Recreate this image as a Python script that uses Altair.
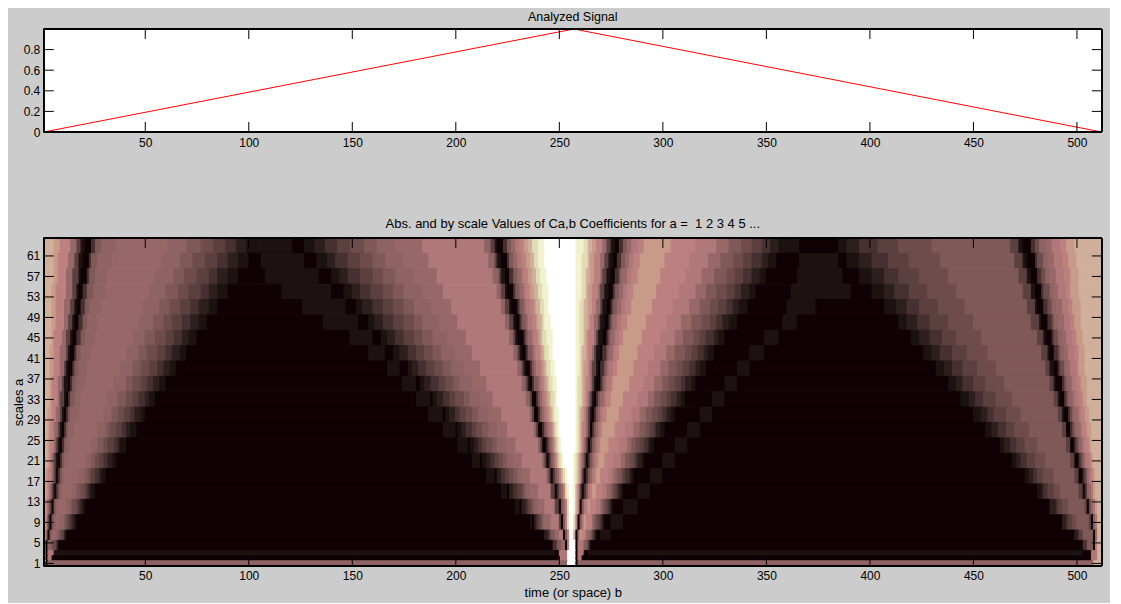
import altair as alt
import pandas as pd

TITLE_TOP = "Analyzed Signal"
TITLE_BOTTOM = "Abs. and by scale Values of Ca,b Coefficients for a =\u00a0 1 2 3 4 5 ..."
FONT = "Liberation Sans"
W, H1, H2 = 1058, 103, 328

signal_b = [1, 257, 512]
signal_v = [0, 1, 0]
x_ticks = [50, 100, 150, 200, 250, 300, 350, 400, 450, 500]
y1_ticks = [0, 0.2, 0.4, 0.6, 0.8]
y2_ticks = [1, 5, 9, 13, 17, 21, 25, 29, 33, 37, 41, 45, 49, 53, 57, 61]

levels = list("0123456789abcdef")
level_colors = ["#100204", "#1c1212", "#2e1f1f", "#463030", "#5c4040", "#6e4c4c", "#7f5858", "#8f6363",
                "#986868", "#b07878", "#bc8080", "#c89a88", "#d0b09c", "#e2dcb4", "#f2f2d0", "#ffffff"]

# each row: (first scale, last scale, runs); a run is level + last b of that run
rows = [
(62, 64, "c6 b9 a14 817 419 121 024 326 629 736 861 770 677 583 489 394 299 1105 1121 0127 1132 2137 3143 4149 5156 6162 7171 8184 9214 7217 4219 1220 0223 3225 6227 8229 9231 a233 b235 c237 d240 e243 f258 e262 d264 c266 b268 a271 8273 4275 1277 0279 3281 6283 8285 9288 a291 b304 a316 9326 8332 6338 5343 4348 3352 2356 1366 0385 1389 2395 3404 4414 5430 6468 4472 1474 0478 3480 5482 7485 8488 9492 a495 b499 c512"),
(59, 61, "c6 b8 a13 816 418 120 023 324 627 734 858 767 673 579 485 390 295 1100 0106 1127 0133 1138 2142 3148 4154 5160 6166 7175 8187 9216 7219 4220 1222 0225 3226 6228 8230 9232 a234 b236 c238 d240 e243 f258 e261 d264 c265 b267 a270 8272 4274 1276 0278 3280 6282 8284 9286 a289 b301 a313 9322 8328 6334 5339 4343 3348 2351 1355 0366 1385 0389 1395 2401 3409 4419 5434 6470 4474 1476 0480 3481 5484 7486 8489 9493 a496 b500 c512"),
(56, 58, "c6 b8 a12 815 418 119 022 323 626 732 855 764 669 575 481 385 290 195 0108 1134 0140 1144 2148 3154 4160 5165 6171 7180 8191 9218 7221 4222 1224 0226 3228 6230 8232 9233 a235 b237 c239 d241 e244 f258 e261 d263 c265 b267 a270 8271 4273 1275 0277 3279 6280 8283 9285 a288 b299 a311 9319 8325 6331 5335 4339 3343 2347 1350 0365 1387 0395 1401 2407 3414 4424 5438 6472 4476 1478 0481 3483 5485 7487 8490 9494 a497 b501 c512"),
(53, 55, "c5 b7 a12 815 417 118 020 322 625 731 852 760 666 571 477 381 285 190 0116 1140 0146 1150 2154 3159 4165 5170 6175 7184 8194 9220 7222 4224 1225 0228 3229 6231 8233 9234 a236 b238 c240 d242 e245 f258 e261 d263 c264 b266 a269 8270 4272 1274 0276 3277 6279 8281 9283 a286 b297 a308 9316 8321 6326 5331 4335 3338 2342 1345 0362 1391 0401 1407 2412 3419 4428 5442 6474 4478 1480 0483 3484 5487 7489 8491 9495 a497 b501 c512"),
(50, 52, "c5 b7 a11 814 416 117 019 321 623 729 849 757 662 567 472 376 281 185 0126 1147 0152 1155 2160 3165 4170 5175 6180 7188 8198 9222 7224 4226 1227 0230 3231 6233 8234 9236 a238 b239 c241 d243 e245 f258 e260 d262 c264 b266 a268 8270 4271 1273 0275 3276 6278 8280 9282 a285 b295 a305 9313 8318 6323 5327 4331 3334 2337 1341 0360 1374 0407 1413 2418 3424 4433 5446 6476 4480 1481 0484 3486 5488 7490 8493 9496 a498 b502 c512"),
(47, 49, "c5 b7 a11 813 415 116 018 320 622 727 847 754 659 563 468 372 276 180 0136 1153 0158 1161 2165 3170 4175 5180 6184 7192 8201 9224 7226 4228 1229 0231 3232 6234 8235 9237 a239 b240 c242 d243 e246 f258 e260 d262 c264 b265 a267 8269 4270 1272 0274 3275 6276 8278 9280 a283 b292 a302 9309 8314 6319 5323 4326 3329 2332 1336 0358 1365 0414 1418 2423 3429 4438 5450 6478 4482 1483 0486 3488 5489 7491 8494 9497 a499 b502 c512"),
(44, 46, "c5 b6 a10 812 414 115 017 319 621 726 844 750 655 560 464 368 271 175 0149 1160 0164 1167 2171 3175 4180 5184 6189 7196 8205 9226 7228 4229 1230 0233 3234 6235 8237 9238 a240 b241 c242 d244 e247 f258 e260 d262 c263 b264 a267 8268 4269 1271 0273 3274 6275 8277 9279 a281 b290 a299 9306 8310 6315 5318 4321 3325 2327 1330 0349 1356 0420 1424 2429 3435 4442 5454 6481 4484 1485 0488 3489 5491 7493 8495 9498 a500 b503 c512"),
(41, 43, "c4 b6 a9 812 413 114 016 317 619 724 841 747 651 556 460 363 267 170 0158 1166 0170 1173 2177 3181 4185 5189 6193 7200 8208 9228 7230 4231 1232 0234 3235 6237 8238 9239 a241 b242 c243 d245 e247 f258 e260 d261 c263 b264 a266 8267 4268 1270 0271 3273 6274 8276 9277 a279 b288 a296 9302 8306 6311 5314 4317 3320 2322 1325 0342 1349 0426 1430 2434 3440 4447 5457 6483 4486 1487 0489 3491 5492 7494 8496 9499 a501 b504 c512"),
(38, 40, "c4 b6 a9 811 412 113 015 316 618 722 838 744 648 552 456 359 262 165 0167 1173 0177 1179 2182 3186 4190 5194 6198 7204 8212 9230 7232 4233 1234 0236 3237 6238 8239 9241 a242 b243 c244 d246 e248 f258 e260 d261 c262 b264 a265 8266 4268 1269 0270 3272 6273 8274 9276 a278 b286 a293 9299 8303 6307 5310 4313 3316 2318 1321 0336 1342 0432 1436 2440 3445 4452 5461 6485 4487 1489 0491 3492 5494 7495 8497 9500 a501 b504 c512"),
(35, 37, "c4 b5 a8 810 411 113 014 315 617 721 835 741 644 548 451 354 257 160 0174 1181 0183 1185 2188 3192 4195 5199 6202 7208 8215 9232 7234 4235 1236 0237 3238 6240 8241 9242 a243 b244 c245 d247 e249 f258 e259 d261 c262 b263 a265 8266 4267 1268 0270 3271 6272 8273 9275 a276 b284 a291 9296 8300 6303 5306 4309 3311 2314 1316 0330 1336 0438 1442 2445 3450 4456 5465 6487 4489 1490 0493 3494 5495 7497 8498 9500 a502 b505 c512"),
(32, 34, "c4 b5 a8 89 411 112 013 314 616 719 832 737 641 544 447 350 252 155 0181 1188 0189 1191 2194 3197 4200 5204 6207 7212 8218 9234 7236 4237 0239 3240 6241 8242 9243 a244 b245 c246 d248 e249 f258 e259 d261 c262 b263 a264 8265 4266 1267 0268 3269 6270 8272 9273 a275 b281 a288 9293 8296 6299 5302 4304 3307 2309 1311 0324 1330 0444 1448 2451 3455 4461 5469 6489 4491 1492 0494 3495 5496 7498 8499 9501 a503 b505 c512"),
(29, 31, "c3 b5 a7 89 410 111 012 313 614 718 830 734 637 540 443 345 248 150 0187 1194 0195 1197 2200 3202 4205 5208 6211 7216 8222 9236 7237 4238 0240 3241 6242 8243 9244 a245 b246 c247 d248 e250 f258 e259 d260 c261 b262 a263 8264 4265 1266 0267 3268 6269 8270 9271 a273 b279 a285 9289 8292 6295 5298 4300 3302 2304 1306 0318 1324 0450 1454 2457 3460 4466 5473 6491 4493 1494 0496 3497 5498 7499 8501 9502 a504 b506 c512"),
(26, 28, "c3 b4 a6 88 49 110 011 312 613 716 827 731 633 536 439 341 243 146 0194 1200 0201 1203 2205 3208 4210 5213 6216 7220 8225 9238 7239 4240 0242 3243 6244 8245 9246 a247 c248 d249 e250 f258 e259 d260 c261 a263 8264 4265 0266 3267 6268 8269 9270 a271 b277 a282 9286 8289 6292 5294 4296 3297 2299 1301 0312 1318 0456 1459 2462 3466 4470 5477 6493 4495 0497 3498 5499 7500 8502 9503 a505 b507 c512"),
(23, 25, "c3 b4 a6 87 48 19 010 311 612 714 824 727 630 532 435 337 238 141 0201 1206 0207 1209 2211 3213 4215 5218 6220 7224 8229 9240 7241 4242 0244 3245 6246 8247 a248 c249 d250 e251 f258 e259 d260 c261 a262 8263 4264 0265 3266 6267 8268 9269 a270 b274 a279 9283 8285 6287 5289 4291 3293 2294 1296 0306 1312 0463 1465 2468 3471 4475 5481 6495 4497 0499 3500 5501 7502 8503 9504 a506 b507 c512"),
(20, 22, "c3 b4 a5 86 47 18 09 310 611 713 821 724 626 528 430 332 234 136 0208 1212 0213 1215 2217 3219 4221 5223 6225 7228 8232 9242 7243 4244 0245 3246 6247 8248 a249 c250 d251 e252 f257 e258 d259 c260 a261 8262 4263 0264 3265 6266 8267 9268 a269 b272 a276 9280 8282 6284 5286 4287 3288 2290 1291 0300 1306 0469 1471 2473 3476 4480 5485 6497 4499 0501 3502 5503 7504 9506 a507 b508 c512"),
(17, 19, "c2 b3 a5 86 47 08 39 610 711 818 721 623 524 426 328 229 131 0215 1219 0220 2222 3224 4226 5228 6230 7232 8236 9244 7245 4246 0247 3248 6249 8250 a251 c252 d253 e254 f257 e258 d259 c260 a261 4262 0263 3264 6265 8266 9267 a268 b270 a274 9276 8278 6280 5281 4282 3284 2285 1286 0294 1300 0475 1477 2479 3481 4484 5489 6499 4501 0503 3504 5505 8506 9507 a508 b509 c512"),
(14, 16, "c2 b3 a4 85 46 07 38 69 710 815 717 619 521 422 323 224 126 0222 1225 0226 2228 3230 4232 5233 6234 7236 8240 9246 4248 0249 3250 6251 8252 a253 d254 e255 f257 e258 c259 a260 4261 0262 3263 6264 9265 a266 b268 a271 9273 8275 6276 5277 4278 3279 2280 1281 0288 1294 0481 1483 2484 3486 4489 5492 6501 4503 0504 3505 7506 8507 9508 b509 c512"),
(11, 13, "c2 a3 84 45 06 67 78 812 714 615 517 418 319 220 121 0229 1231 0232 2234 3235 4236 5237 6238 7240 8243 9248 4250 0251 6252 8253 a254 d255 f257 e258 c259 a260 0261 6262 9263 a264 b265 a268 9270 8271 6272 5273 4274 3275 1276 0281 1288 0487 2490 3491 4493 5496 6504 4505 0506 5507 8508 9509 b510 c512"),
(8, 10, "c2 a3 44 05 66 77 89 711 612 513 414 315 216 117 0236 1237 0238 2239 3240 4241 5242 7243 8246 9250 4251 0252 6253 a254 d255 f257 d258 a259 0260 6261 9262 b263 a266 8267 6268 5269 4270 3271 1272 0275 1281 0493 2495 3496 4498 5500 6506 4507 0508 7509 9510 c512"),
(6, 7, "c2 83 04 65 87 78 69 510 411 212 0243 2245 4246 6248 8250 9252 0253 6254 a255 f257 c258 0259 8260 b261 a263 8265 6266 4267 2268 0270 1275 0499 2501 4503 6508 0509 8510 c512"),
(4, 5, "d2 03 75 57 38 0247 3249 6251 8253 0254 a255 f258 0259 9262 6264 3265 0503 3505 6508 0509 a510 c512"),
(3, 3, "d2 03 96 1248 0250 9254 f258 0259 9262 0264 1503 0507 9510 c512"),
(2, 2, "d2 03 95 0250 9254 f258 0259 9261 0507 9510 c512"),
(1, 1, "f2 03 7254 f258 0259 7508 c512"),
]

cells = []
for lo, hi, runs in rows:
    start = 1
    for run in runs.split():
        end = int(run[1:])
        if end > start:
            cells.append({"b0": start, "b1": end, "a0": lo - 0.5, "a1": hi + 0.5, "lvl": run[0]})
            start = end
cells = pd.DataFrame(cells)

x_scale = alt.Scale(domain=[1, 512], nice=False, zero=False)
y1_scale = alt.Scale(domain=[0, 1], nice=False)
y2_scale = alt.Scale(domain=[0.5, 64.5], nice=False, zero=False)
color_scale = alt.Scale(domain=levels, range=level_colors)


def frame(height, y_scale, yt, x_ax, y_ax):
    xd = pd.DataFrame({"t": x_ticks})
    yd = pd.DataFrame({"t": yt})
    base_x = alt.Chart(xd).mark_rule(color="black", strokeWidth=1)
    base_y = alt.Chart(yd).mark_rule(color="black", strokeWidth=1)
    X = alt.X("t:Q", scale=x_scale, axis=x_ax)
    Y = alt.Y("t:Q", scale=y_scale, axis=y_ax)
    return [
        base_x.encode(x=X, y=alt.value(height), y2=alt.value(height - 10)),
        base_x.encode(x=X, y=alt.value(0), y2=alt.value(10)),
        base_y.encode(y=Y, x=alt.value(0), x2=alt.value(10)),
        base_y.encode(y=Y, x=alt.value(W), x2=alt.value(W - 10)),
        base_x.encode(x=alt.value(0), x2=alt.value(W), y=alt.value(0)),
        base_x.encode(x=alt.value(0), x2=alt.value(W), y=alt.value(height)),
        base_x.encode(y=alt.value(0), y2=alt.value(height), x=alt.value(0)),
        base_x.encode(y=alt.value(0), y2=alt.value(height), x=alt.value(W)),
    ]


common = dict(ticks=False, domain=False, grid=False, labelFlush=False, labelOverlap=False)
x1_axis = alt.Axis(title=None, values=x_ticks, labelPadding=5, **common)
y1_axis = alt.Axis(title=None, values=y1_ticks, format="~g", labelPadding=4, **common)
x2_axis = alt.Axis(title="time (or space) b", values=x_ticks, labelPadding=5, titlePadding=5, **common)
y2_axis = alt.Axis(title="scales a", values=y2_ticks, labelPadding=4, titlePadding=1, **common)

signal = pd.DataFrame({"b": signal_b, "v": signal_v})
line = alt.Chart(signal).mark_line(color="#ff0000", strokeWidth=1).encode(
    x=alt.X("b:Q", scale=x_scale, axis=x1_axis),
    y=alt.Y("v:Q", scale=y1_scale, axis=y1_axis),
)
top = alt.layer(line, *frame(H1, y1_scale, y1_ticks, x1_axis, y1_axis)).properties(
    width=W, height=H1,
    title=alt.TitleParams(TITLE_TOP, font=FONT, fontSize=12.5, fontWeight="normal", color="black", offset=4),
)

heat = alt.Chart(cells).mark_rect(strokeWidth=1).encode(
    x=alt.X("b0:Q", scale=x_scale, axis=x2_axis),
    x2="b1:Q",
    y=alt.Y("a0:Q", scale=y2_scale, axis=y2_axis),
    y2="a1:Q",
    fill=alt.Fill("lvl:N", scale=color_scale, legend=None),
    stroke=alt.Stroke("lvl:N", scale=color_scale, legend=None),
)
bottom = alt.layer(heat, *frame(H2, y2_scale, y2_ticks, x2_axis, y2_axis)).properties(
    width=W, height=H2,
    title=alt.TitleParams(TITLE_BOTTOM, font=FONT, fontSize=13, fontWeight="normal", color="black", offset=7),
)

chart = alt.vconcat(top, bottom, spacing=69).resolve_scale(x="independent", y="independent", color="independent").configure(
    background="#cccccc",
    padding={"left": 3.8, "top": 2, "right": 6, "bottom": 3},
    font=FONT,
).configure_view(stroke=None, fill="white").configure_axis(
    labelFont=FONT, labelFontSize=12, labelColor="black", titleFont=FONT, titleFontSize=13,
    titleFontWeight="normal", titleColor="black",
)

chart.save("out.html", embed_options={"renderer": "svg", "actions": False})
